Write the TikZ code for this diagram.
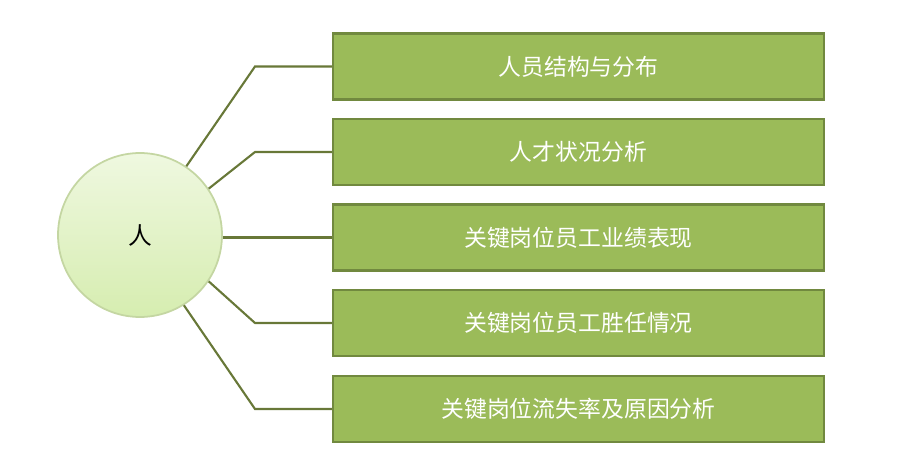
\documentclass[tikz,border=0pt]{standalone}
\usepackage{fontspec}
\newfontfamily\cjk{Noto Sans CJK SC}
\usepackage{tikz}
\usetikzlibrary{positioning,calc}

\definecolor{boxgreen}{HTML}{9BBB59}
\definecolor{boxedge}{HTML}{71893F}
\definecolor{linkgreen}{HTML}{687838}
\definecolor{ballrim}{HTML}{C4D6A2}
\definecolor{balltop}{HTML}{EFF8E0}
\definecolor{ballbot}{HTML}{D6EDB0}

\begin{document}
\begin{tikzpicture}[
    x=0.02cm, y=-0.02cm,
    topic/.style={rectangle, draw=boxedge, line width=1.2pt, fill=boxgreen,
                  minimum width=9.82cm, minimum height=1.32cm,
                  inner sep=0pt, text=white,
                  font=\cjk\fontsize{13}{15}\selectfont},
    hub/.style={circle, draw=ballrim, line width=1pt,
                top color=balltop, bottom color=ballbot,
                minimum size=3.28cm, inner sep=0pt,
                font=\cjk\fontsize{13.5}{15}\selectfont},
    link/.style={draw=linkgreen, line width=1.2pt},
  ]
  \useasboundingbox (0,0) rectangle (900,470);

  % ===== Centre =====
  \node[hub] (person) at (140,235) {人};

  % ===== Topic boxes =====
  \node[topic] (b1) at (578.5,66.5) {人员结构与分布};
  \node[topic] (b2) at (578.5,152) {人才状况分析};
  \node[topic] (b3) at (578.5,237.5) {关键岗位员工业绩表现};
  \node[topic] (b4) at (578.5,323) {关键岗位员工胜任情况};
  \node[topic] (b5) at (578.5,409) {关键岗位流失率及原因分析};

  % Elbows
  \coordinate (e1) at (255,66.5);
  \coordinate (e2) at (255,152);
  \coordinate (e4) at (255,323);
  \coordinate (e5) at (255,409);

  % Connectors
  \draw[link] (person.56) -- (e1) -- (b1.west);
  \draw[link] (person.34) -- (e2) -- (b2.west);
  \draw[link] (person.east |- b3.west) -- (b3.west);
  \draw[link] (person.-34) -- (e4) -- (b4.west);
  \draw[link] (person.-58) -- (e5) -- (b5.west);

\end{tikzpicture}
\end{document}
